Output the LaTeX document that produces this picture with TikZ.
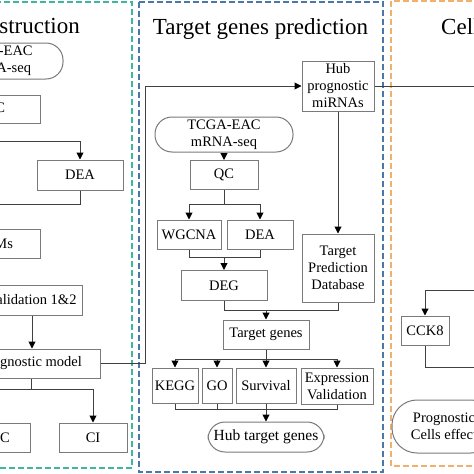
\documentclass[tikz,border=0pt]{standalone}
\usepackage{fontspec}
\setmainfont{Liberation Serif}
\usetikzlibrary{arrows.meta}
\definecolor{pgreen}{HTML}{3DB89B}
\definecolor{pblue}{HTML}{4A79A8}
\definecolor{porange}{HTML}{F2B06E}
\definecolor{boxgray}{HTML}{7A7A7A}
\definecolor{linegray}{HTML}{404040}
\tikzset{
  panel/.style={dash pattern=on 6pt off 3pt, line width=2pt},
  ttl/.style={inner sep=0pt, font=\fontsize{23}{27}\selectfont},
  bx/.style 2 args={draw=boxgray, line width=1pt, align=center, inner sep=0pt,
    font=\fontsize{14.5}{17}\selectfont, minimum width=#1, minimum height=#2},
  rbx/.style 2 args={bx={#1}{#2}, rounded corners=17pt},
  ln/.style={draw=linegray, line width=1pt},
  ar/.style={ln, -{Triangle[length=7pt,width=7pt,color=black]}},
}
\begin{document}
\begin{tikzpicture}[x=1pt,y=-1pt]
\useasboundingbox (0,0) rectangle (474,474);
\clip (0,0) rectangle (474,474);
\fill[white] (0,0) rectangle (474,474);
% panels
\draw[panel,pgreen] (-200,2) rectangle (132,468);
\draw[panel,pblue] (139,2) rectangle (383,472);
\draw[panel,porange] (391,1) rectangle (700,466);
% titles
\node[ttl,anchor=base east] (t1) at (80,33) {Model construction};
\node[ttl,anchor=base] (t2) at (260.5,34) {Target genes prediction};
\node[ttl,anchor=base west] (t3) at (441,34) {Cell experiments};
% left panel
\node[rbx={134}{36}] (lseq) at (-4,61) {TCGA-EAC\\miRNA-seq};
\node[bx={90}{28}] (lqc) at (-5,109) {QC};
\node[bx={86}{30}] (ldea) at (80,175) {DEA};
\node[bx={92}{29}] (ldems) at (-6,243.5) {DEMs};
\node[bx={100}{30}] (lval) at (32,300) {Validation 1\&2};
\node[bx={138}{29}] (lmod) at (31,363.5) {Prognostic model};
\node[bx={70}{29}] (lroc) at (-5,437.5) {ROC};
\node[bx={68}{29}] (lci) at (93,437.5) {CI};
% middle panel
\node[bx={72}{50}] (hub) at (338,86) {Hub\\prognostic\\miRNAs};
\node[rbx={138}{35}] (mseq) at (224,134.5) {TCGA-EAC\\mRNA-seq};
\node[bx={68}{29}] (mqc) at (224,175) {QC};
\node[bx={64}{29}] (wg) at (189,234.5) {WGCNA};
\node[bx={66}{29}] (mdea) at (260,234.5) {DEA};
\node[bx={86}{30}] (deg) at (224,285.5) {DEG};
\node[bx={72}{68}] (tpd) at (338,268) {Target\\Prediction\\Database};
\node[bx={86}{29}] (tg) at (266,334.5) {Target genes};
\node[bx={46}{35}] (kegg) at (175,385.5) {KEGG};
\node[bx={30}{35}] (go) at (217,385.5) {GO};
\node[bx={60}{35}] (surv) at (266,385.5) {Survival};
\node[bx={72}{36}] (ev) at (337,386) {Expression\\Validation};
\node[rbx={116}{30}, font=\fontsize{15.5}{18}\selectfont] (htg) at (266,437) {Hub target genes};
% right panel
\node[bx={48}{29}] (cck) at (425,330.5) {CCK8};
\node[bx={104}{53}, rounded corners=25pt] (prog) at (444,426.5) {Prognostic\\Cells effect};
% coordinates
\coordinate (j1) at (224,204);
\coordinate (j2) at (224,257);
\coordinate (j3) at (266,310);
\coordinate (j4) at (266,359);
\coordinate (j5) at (266,409);
\coordinate (r1) at (480,86);
\coordinate (r2) at (480,290);
\coordinate (r3) at (480,367);
% left connectors
\draw[ar] (lqc.south) -- ++(0,18) -| (ldea.north);
\draw[ar] (ldea.south) -- ++(0,14) -| (ldems.north);
\draw[ar] (lval.south) -- (lval.south |- lmod.north);
\draw[ar] (lmod.south) -- ++(0,11) -| (lci.north);
\draw[ar] (lmod.south) ++(0,11) -| (lroc.north);
\draw[ar] (lmod.east) -- (145,363.5) |- (hub.west);
% middle connectors
\draw[ar] (mseq.south) -- (mqc.north);
\draw[ln] (mqc.south) -- (j1);
\draw[ar] (j1) -| (wg.north);
\draw[ar] (j1) -| (mdea.north);
\draw[ln] (wg.south) |- (mdea.south |- j2) -- (mdea.south);
\draw[ar] (j2) -- (deg.north);
\draw[ar] (hub.south) -- (tpd.north);
\draw[ln] (deg.south) |- (tpd.south |- j3) -- (tpd.south);
\draw[ar] (j3) -- (tg.north);
\draw[ln] (tg.south) -- (j4);
\draw[ar] (j4) -| (kegg.north);
\draw[ar] (j4) -| (go.north);
\draw[ar] (j4) -- (surv.north);
\draw[ar] (j4) -| (ev.north);
\draw[ln] (kegg.south) |- (ev.south |- j5) -- (ev.south);
\draw[ln] (go.south) -- (go.south |- j5);
\draw[ar] (surv.south) -- (htg.north);
% right connectors
\draw[ln] (hub.east) -- (r1);
\draw[ar] (r2) -| (cck.north);
\draw[ln] (cck.south) |- (r3);
\end{tikzpicture}
\end{document}
